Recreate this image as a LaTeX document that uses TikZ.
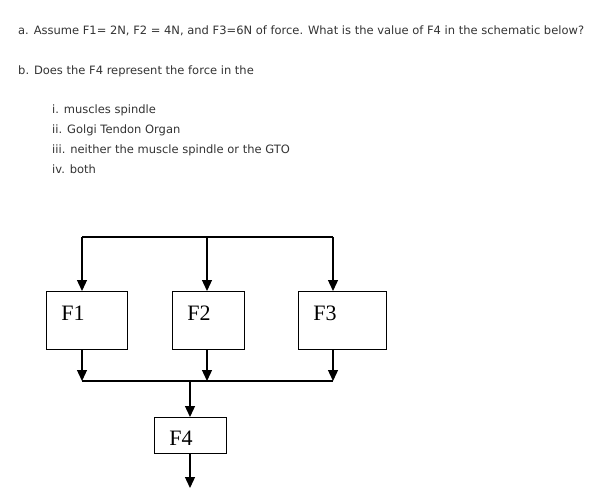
\documentclass[tikz,border=0pt]{standalone}
\usepackage{fontspec}
\setmainfont{Liberation Serif}
\newfontfamily\uifont{DejaVu Sans}
\usetikzlibrary{arrows.meta}
\definecolor{txt}{HTML}{333333}
\begin{document}
\begin{tikzpicture}[x=1pt,y=-1pt,
  q/.style={anchor=west,inner sep=0,text=txt,font=\uifont\fontsize{11.5}{13}\selectfont},
  box/.style={draw,line width=1.2pt,anchor=north west,inner sep=0},
  lab/.style={font=\fontsize{22}{24}\selectfont,inner sep=0},
  ln/.style={line width=1.3pt},
  arr/.style={ln,-{Triangle[width=10pt,length=11pt]}}]
\useasboundingbox (0,0) rectangle (604,502);
\node[q] (qa) at (18,31) {a. Assume F1= 2N, F2 = 4N, and F3=6N of force. What is the value of F4 in the schematic below?};
\node[q] (qb) at (18,71) {b. Does the F4 represent the force in the};
\node[q] (q1) at (52,110) {i. muscles spindle};
\node[q] (q2) at (52,130) {ii. Golgi Tendon Organ};
\node[q] (q3) at (52,150) {iii. neither the muscle spindle or the GTO};
\node[q] (q4) at (52,169) {iv. both};
\node[box,minimum width=81,minimum height=58] (f1) at (46,291) {};
\node[box,minimum width=72,minimum height=58] (f2) at (172,291) {};
\node[box,minimum width=88,minimum height=58] (f3) at (298,291) {};
\node[box,minimum width=72,minimum height=36] (f4) at (154,417) {};
\node[lab] (l1) at (73,313) {F1};
\node[lab] (l2) at (199,313) {F2};
\node[lab] (l3) at (325,313) {F3};
\node[lab] (l4) at (181,438) {F4};
\coordinate (t1) at (82,237); \coordinate (t2) at (207,237); \coordinate (t3) at (333,237);
\coordinate (b1) at (82,381); \coordinate (b2) at (207,381); \coordinate (b3) at (333,381);
\coordinate (bm) at (190,381); \coordinate (end) at (190,488);
\draw[ln] (t1) -- (t3);
\draw[arr] (t1) -- (t1 |- f1.north);
\draw[arr] (t2) -- (t2 |- f2.north);
\draw[arr] (t3) -- (t3 |- f3.north);
\draw[arr] (b1 |- f1.south) -- (b1);
\draw[arr] (b2 |- f2.south) -- (b2);
\draw[arr] (b3 |- f3.south) -- (b3);
\draw[ln] (b1) -- (b3);
\draw[arr] (bm) -- (bm |- f4.north);
\draw[arr] (bm |- f4.south) -- (end);
\end{tikzpicture}
\end{document}
